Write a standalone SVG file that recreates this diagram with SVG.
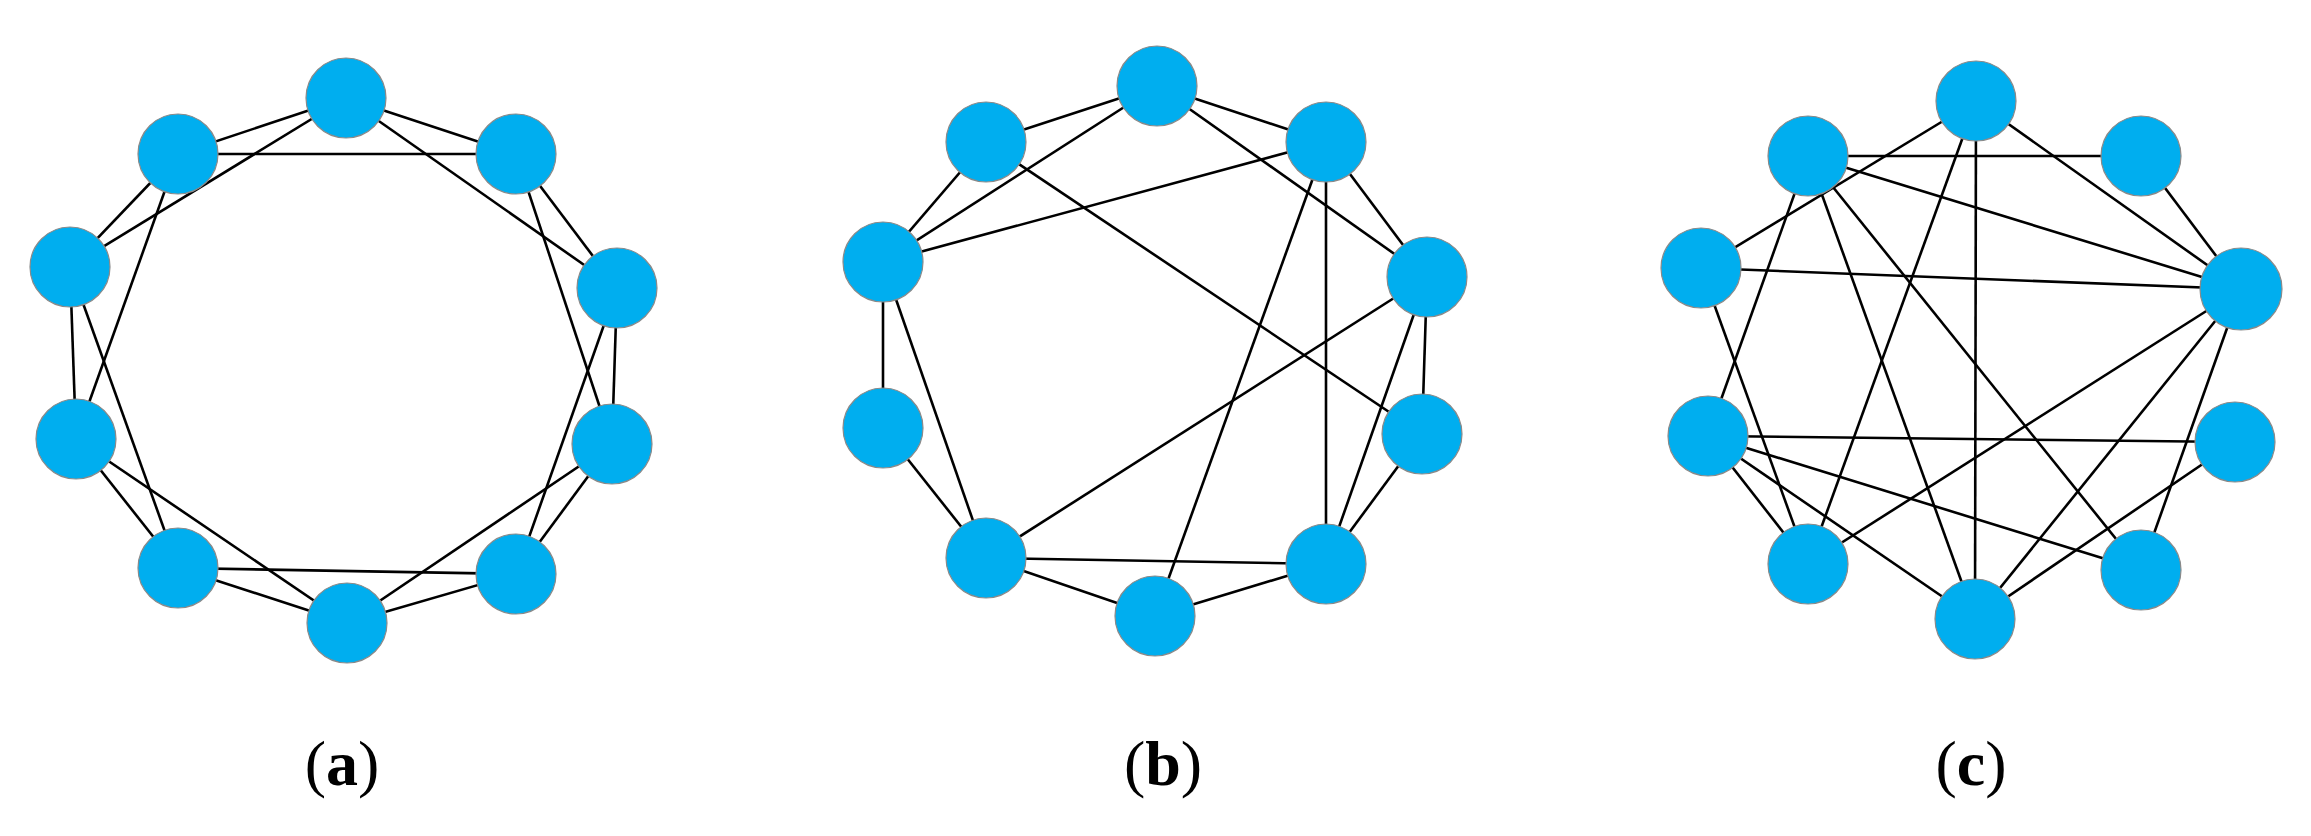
<svg xmlns="http://www.w3.org/2000/svg" width="2311" height="836" viewBox="0 0 2311 836">
<style>
.e line{stroke:#000;stroke-width:2.6}
.n{fill:#00AEEF;stroke:#8a8a8a;stroke-width:1.2}
.l{font-family:"Liberation Serif",serif;font-size:64px;text-anchor:middle}
</style>
<rect width="2311" height="836" fill="#fff"/>
<g class="e" id="connectors">
<!-- a -->
<line x1="346" y1="98" x2="178" y2="154"/><line x1="346" y1="98" x2="516" y2="154"/><line x1="178" y1="154" x2="516" y2="154"/>
<line x1="346" y1="98" x2="70" y2="267"/><line x1="346" y1="98" x2="617" y2="288"/>
<line x1="178" y1="154" x2="70" y2="267"/><line x1="178" y1="154" x2="76" y2="439"/>
<line x1="516" y1="154" x2="617" y2="288"/><line x1="516" y1="154" x2="612" y2="444"/>
<line x1="70" y1="267" x2="76" y2="439"/><line x1="70" y1="267" x2="178" y2="568"/>
<line x1="617" y1="288" x2="612" y2="444"/><line x1="617" y1="288" x2="516" y2="574"/>
<line x1="76" y1="439" x2="178" y2="568"/><line x1="76" y1="439" x2="347" y2="623"/>
<line x1="612" y1="444" x2="516" y2="574"/><line x1="612" y1="444" x2="347" y2="623"/>
<line x1="178" y1="568" x2="347" y2="623"/><line x1="178" y1="568" x2="516" y2="574"/><line x1="516" y1="574" x2="347" y2="623"/>
<!-- b -->
<line x1="986" y1="142" x2="1157" y2="86"/><line x1="986" y1="142" x2="883" y2="262"/><line x1="1157" y1="86" x2="883" y2="262"/>
<line x1="1157" y1="86" x2="1326" y2="142"/><line x1="1326" y1="142" x2="883" y2="262"/><line x1="1326" y1="142" x2="1427" y2="277"/>
<line x1="1326" y1="142" x2="1326" y2="564"/><line x1="1326" y1="142" x2="1155" y2="616"/><line x1="1157" y1="86" x2="1427" y2="277"/>
<line x1="986" y1="142" x2="1422" y2="434"/><line x1="883" y1="262" x2="883" y2="428"/><line x1="883" y1="262" x2="986" y2="558"/>
<line x1="1427" y1="277" x2="986" y2="558"/><line x1="1427" y1="277" x2="1422" y2="434"/><line x1="1427" y1="277" x2="1326" y2="564"/>
<line x1="883" y1="428" x2="986" y2="558"/><line x1="986" y1="558" x2="1326" y2="564"/><line x1="986" y1="558" x2="1155" y2="616"/>
<line x1="1155" y1="616" x2="1326" y2="564"/><line x1="1422" y1="434" x2="1326" y2="564"/>
<!-- c -->
<line x1="1808" y1="156" x2="2141" y2="156"/><line x1="1976" y1="101" x2="1701" y2="268"/><line x1="1976" y1="101" x2="2241" y2="289"/>
<line x1="1976" y1="101" x2="1808" y2="564"/><line x1="1976" y1="101" x2="1975" y2="619"/><line x1="1808" y1="156" x2="2241" y2="289"/>
<line x1="1808" y1="156" x2="1708" y2="436"/><line x1="1808" y1="156" x2="1975" y2="619"/><line x1="1808" y1="156" x2="2141" y2="570"/>
<line x1="2141" y1="156" x2="2241" y2="289"/><line x1="1701" y1="268" x2="2241" y2="289"/><line x1="1701" y1="268" x2="1808" y2="564"/>
<line x1="2241" y1="289" x2="1808" y2="564"/><line x1="2241" y1="289" x2="1975" y2="619"/><line x1="2241" y1="289" x2="2141" y2="570"/>
<line x1="1708" y1="436" x2="2235" y2="442"/><line x1="1708" y1="436" x2="2141" y2="570"/><line x1="1708" y1="436" x2="1975" y2="619"/>
<line x1="1708" y1="436" x2="1808" y2="564"/><line x1="2235" y1="442" x2="1975" y2="619"/>
</g>
<g id="a1"><circle class="n" cx="346" cy="98" r="40"/></g>
<g id="a2"><circle class="n" cx="178" cy="154" r="40"/></g>
<g id="a3"><circle class="n" cx="516" cy="154" r="40"/></g>
<g id="a4"><circle class="n" cx="70" cy="267" r="40"/></g>
<g id="a5"><circle class="n" cx="617" cy="288" r="40"/></g>
<g id="a6"><circle class="n" cx="76" cy="439" r="40"/></g>
<g id="a7"><circle class="n" cx="612" cy="444" r="40"/></g>
<g id="a8"><circle class="n" cx="178" cy="568" r="40"/></g>
<g id="a9"><circle class="n" cx="516" cy="574" r="40"/></g>
<g id="a10"><circle class="n" cx="347" cy="623" r="40"/></g>
<g id="b1"><circle class="n" cx="1157" cy="86" r="40"/></g>
<g id="b2"><circle class="n" cx="986" cy="142" r="40"/></g>
<g id="b3"><circle class="n" cx="1326" cy="142" r="40"/></g>
<g id="b4"><circle class="n" cx="883" cy="262" r="40"/></g>
<g id="b5"><circle class="n" cx="1427" cy="277" r="40"/></g>
<g id="b6"><circle class="n" cx="883" cy="428" r="40"/></g>
<g id="b7"><circle class="n" cx="1422" cy="434" r="40"/></g>
<g id="b8"><circle class="n" cx="986" cy="558" r="40"/></g>
<g id="b9"><circle class="n" cx="1326" cy="564" r="40"/></g>
<g id="b10"><circle class="n" cx="1155" cy="616" r="40"/></g>
<g id="c1"><circle class="n" cx="1976" cy="101" r="40"/></g>
<g id="c2"><circle class="n" cx="1808" cy="156" r="40"/></g>
<g id="c3"><circle class="n" cx="2141" cy="156" r="40"/></g>
<g id="c4"><circle class="n" cx="1701" cy="268" r="40"/></g>
<g id="c5"><circle class="n" cx="2241" cy="289" r="41"/></g>
<g id="c6"><circle class="n" cx="1708" cy="436" r="40"/></g>
<g id="c7"><circle class="n" cx="2235" cy="442" r="40"/></g>
<g id="c8"><circle class="n" cx="1808" cy="564" r="40"/></g>
<g id="c9"><circle class="n" cx="2141" cy="570" r="40"/></g>
<g id="c10"><circle class="n" cx="1975" cy="619" r="40"/></g>
<g id="labels">
<text class="l" x="342" y="785">(<tspan font-weight="bold">a</tspan>)</text>
<text class="l" x="1163" y="785">(<tspan font-weight="bold">b</tspan>)</text>
<text class="l" x="1971" y="785">(<tspan font-weight="bold">c</tspan>)</text>
</g>
</svg>
